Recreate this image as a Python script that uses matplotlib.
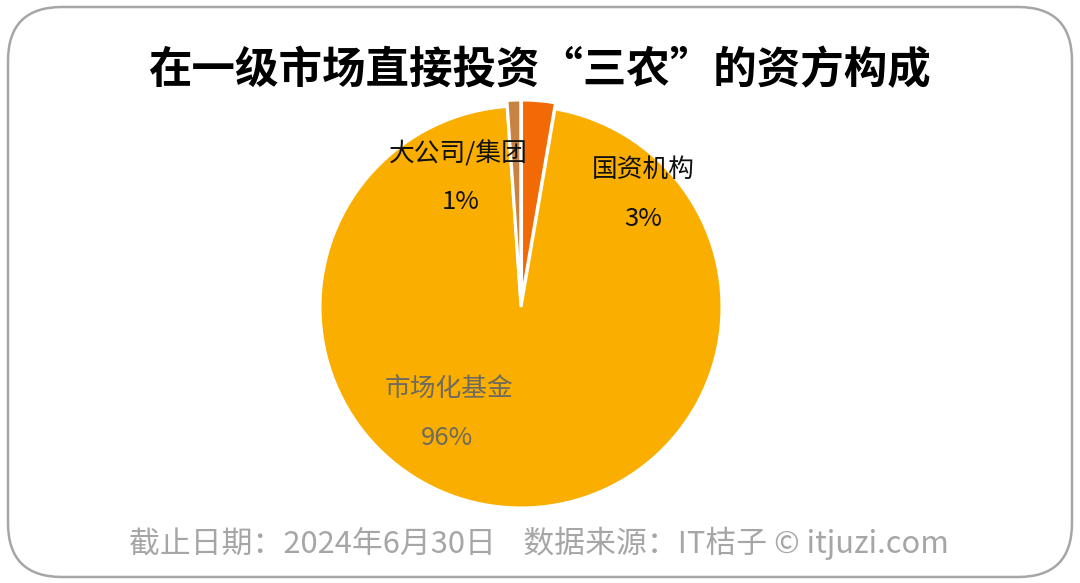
import matplotlib.pyplot as plt
from matplotlib.patches import FancyBboxPatch

plt.rcParams['font.family'] = ['Noto Sans CJK SC', 'DejaVu Sans']

labels = ['国资机构', '市场化基金', '大公司/集团']
shares = [2.7, 96.2, 1.1]
colors = ['#F26A06', '#F9AE00', '#C98341']
explode = [0.03, 0, 0.03]
label_pos = [(0.61, 0.68), (-0.36, -0.41), (-0.31, 0.76)]
pct_pos = [(0.61, 0.44), (-0.37, -0.65), (-0.30, 0.52)]
label_colors = ['#111111', '#6E6A5E', '#111111']

title = '在一级市场直接投资“三农”的资方构成'
footer = '截止日期：2024年6月30日    数据来源：IT桔子 © itjuzi.com'

fig = plt.figure(figsize=(10.8, 5.83), dpi=100)

border = FancyBboxPatch((8 / 1080, 6 / 583), 1064 / 1080, 570 / 583,
                        boxstyle='round,pad=0,rounding_size=0.05',
                        transform=fig.transFigure, facecolor='none',
                        edgecolor='#A6A6A6', linewidth=1.8,
                        mutation_aspect=1080 / 583)
fig.patches.append(border)

r_px = 201
cx, cy = 521, 307
ax = fig.add_axes([(cx - r_px) / 1080, 1 - (cy + r_px) / 583,
                   2 * r_px / 1080, 2 * r_px / 583])
ax.pie(shares, colors=colors, startangle=90, counterclock=False,
       explode=explode, radius=1,
       wedgeprops=dict(edgecolor='white', linewidth=2.2))
ax.set_xlim(-1, 1)
ax.set_ylim(-1, 1)
ax.set_aspect('equal')
ax.axis('off')

for lab, val, lp, pp, c in zip(labels, shares, label_pos, pct_pos, label_colors):
    ax.text(lp[0], lp[1], lab, ha='center', va='center', fontsize=18.5,
            color=c, fontweight='medium')
    ax.text(pp[0], pp[1], '{:.0f}%'.format(val), ha='center', va='center',
            fontsize=18.5, color=c, fontweight='medium')

fig.text(539 / 1080, 1 - 70 / 583, title, ha='center', va='center',
         fontsize=31.3, fontweight='heavy', color='black')
fig.text(539 / 1080, 1 - 543 / 583, footer, ha='center', va='center',
         fontsize=22.2, color='#A6A6A6')

fig.savefig('out.png', dpi=100)
